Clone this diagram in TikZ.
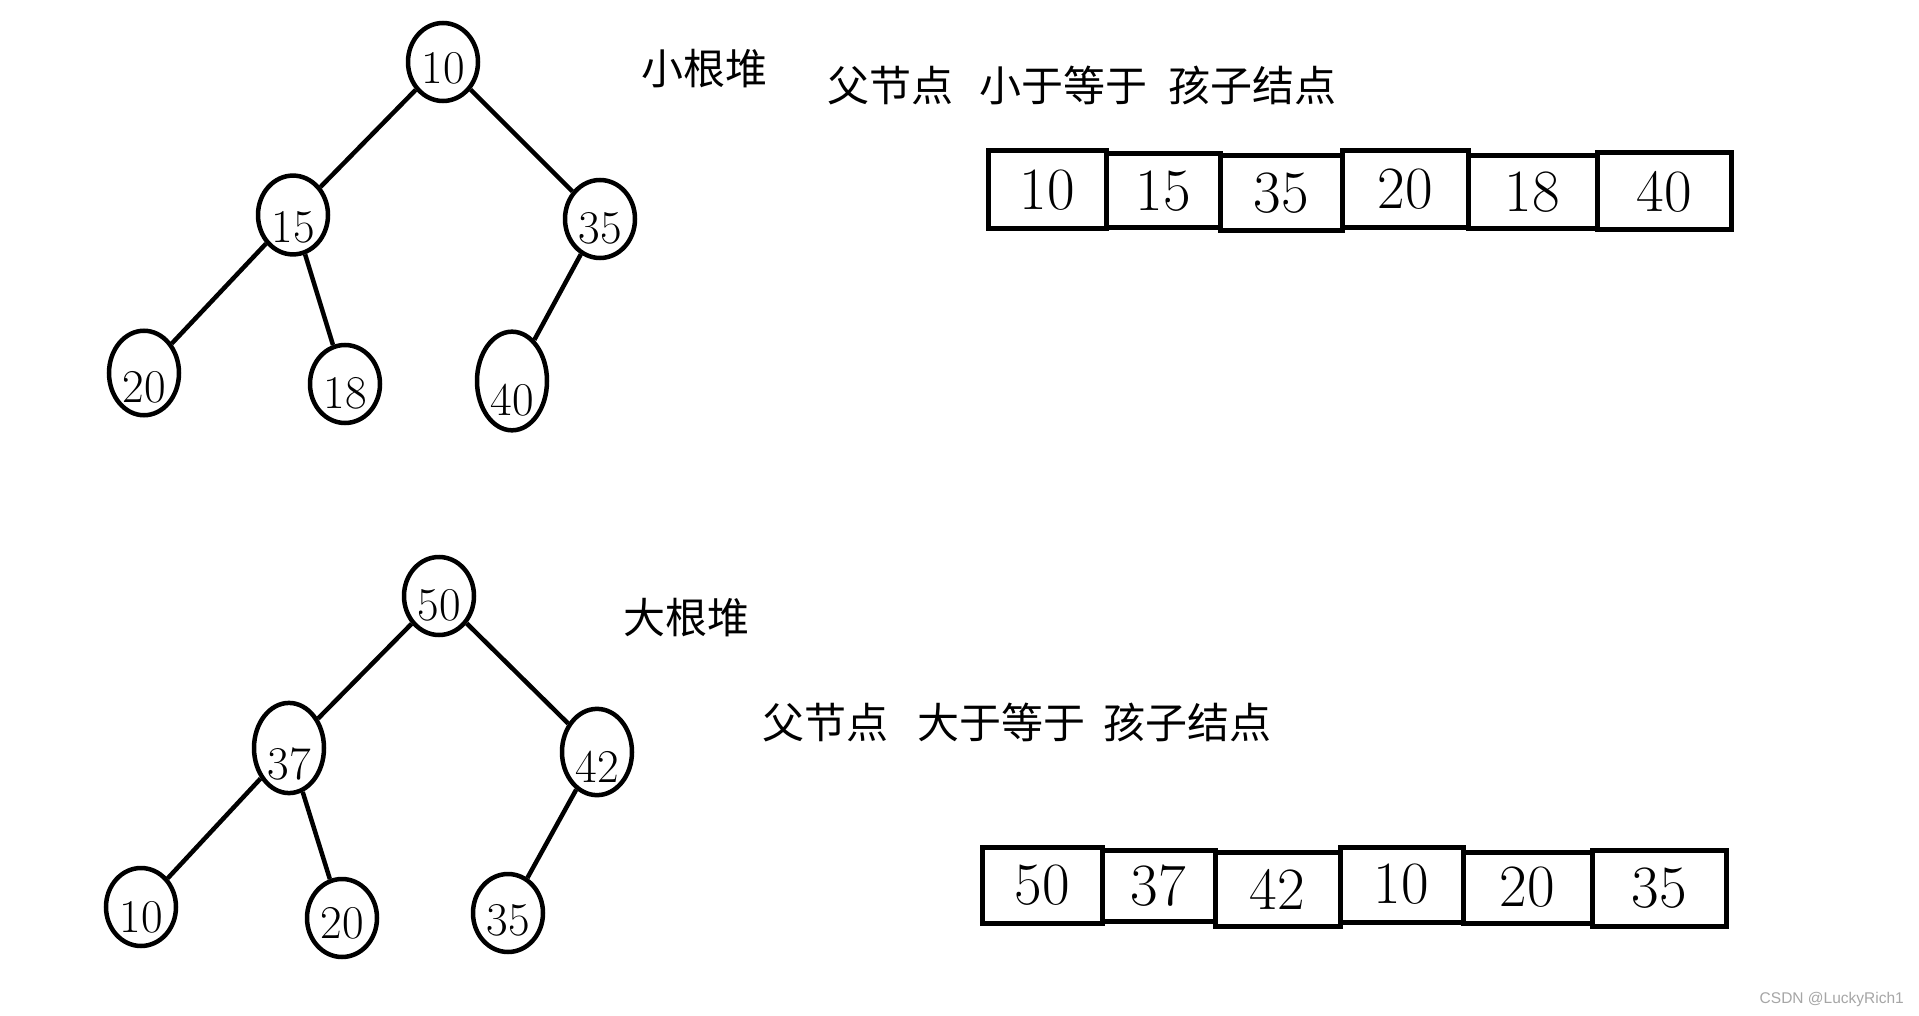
\documentclass[tikz,border=0pt]{standalone}
\usepackage{fontspec}
\newfontfamily\cjk{Noto Sans CJK SC}
\newfontfamily\wmfont{Liberation Sans}
\usetikzlibrary{shapes.geometric}

\begin{document}
\begin{tikzpicture}[x=1pt, y=-1pt,
  heapnode/.style={
    draw=black, ellipse, line width=4.5pt, inner sep=0pt,
    minimum width=70pt, minimum height=78pt,
    font=\fontsize{47}{47}\selectfont
  },
  sink/.style={text height=#1},
  cellbox/.style={
    draw=black, line width=5pt, inner sep=0pt,
    font=\fontsize{60}{60}\selectfont
  },
  title/.style={font=\cjk\fontsize{42}{42}\selectfont, inner sep=0pt},
  conn/.style={black, line width=4.5pt},
]

%% Page frame (pixels of the reference)
\path[fill=white, use as bounding box] (0,0) rectangle (1919,1016);

%% Min heap tree
\node[heapnode, sink=43pt] (t10) at (443,62)  {10};
\node[heapnode, sink=55pt] (t15) at (293,215) {15};
\node[heapnode, sink=49pt] (t35) at (600,219) {35};
\node[heapnode, sink=59pt] (t20) at (144,373) {20};
\node[heapnode, sink=49pt] (t18) at (345,384) {18};
\node[heapnode, sink=69pt] (t40) at (512,381) {40};

\draw[conn] (t10) -- (t15);
\draw[conn] (t10) -- (t35);
\draw[conn] (t15) -- (t20);
\draw[conn] (t15) -- (t18);
\draw[conn] (t35) -- (t40);

%% Min heap labels
\node[title] (minname) at (704,69)  {小根堆};
\node[title] (minrule) at (1082,86) {父节点\hspace{26pt}小于等于\hspace{22pt}孩子结点};

%% Min heap array
\node[cellbox, minimum width=118pt, minimum height=78pt] (a1) at (1047,190)   {10};
\node[cellbox, minimum width=114pt, minimum height=74pt] (a2) at (1163,191)   {15};
\node[cellbox, minimum width=122pt, minimum height=75pt] (a3) at (1281,193.5) {35};
\node[cellbox, minimum width=126pt, minimum height=77pt] (a4) at (1405,189.5) {20};
\node[cellbox, minimum width=129pt, minimum height=73pt] (a5) at (1532.5,192.5) {18};
\node[cellbox, minimum width=134pt, minimum height=77pt] (a6) at (1664,191.5) {40};

%% Max heap tree
\node[heapnode, sink=49pt] (b50) at (439,596) {50};
\node[heapnode, sink=63pt] (b37) at (289,748) {37};
\node[heapnode, sink=61pt] (b42) at (597,752) {42};
\node[heapnode, sink=51pt] (b10) at (141,907) {10};
\node[heapnode, sink=41pt] (b20) at (342,918) {20};
\node[heapnode, sink=45pt] (b35) at (508,913) {35};

\draw[conn] (b50) -- (b37);
\draw[conn] (b50) -- (b42);
\draw[conn] (b37) -- (b10);
\draw[conn] (b37) -- (b20);
\draw[conn] (b42) -- (b35);

%% Max heap labels
\node[title] (maxname) at (686,618)  {大根堆};
\node[title] (maxrule) at (1017,722) {父节点\hspace{30pt}大于等于\hspace{18pt}孩子结点};

%% Max heap array
\node[cellbox, minimum width=120pt, minimum height=76pt] (d1) at (1042,885)   {50};
\node[cellbox, minimum width=113pt, minimum height=71pt] (d2) at (1158.5,885.5) {37};
\node[cellbox, minimum width=125pt, minimum height=74pt] (d3) at (1277.5,889) {42};
\node[cellbox, minimum width=123pt, minimum height=75pt] (d4) at (1401.5,884.5) {10};
\node[cellbox, minimum width=129pt, minimum height=71pt] (d5) at (1527.5,887.5) {20};
\node[cellbox, minimum width=134pt, minimum height=76pt] (d6) at (1659,888)   {35};

%% Watermark
\node[font=\wmfont\fontsize{15.5}{15.5}\selectfont, text=gray!70, anchor=east, inner sep=0pt]
  (mark) at (1904,999) {CSDN @LuckyRich1};

\end{tikzpicture}
\end{document}
